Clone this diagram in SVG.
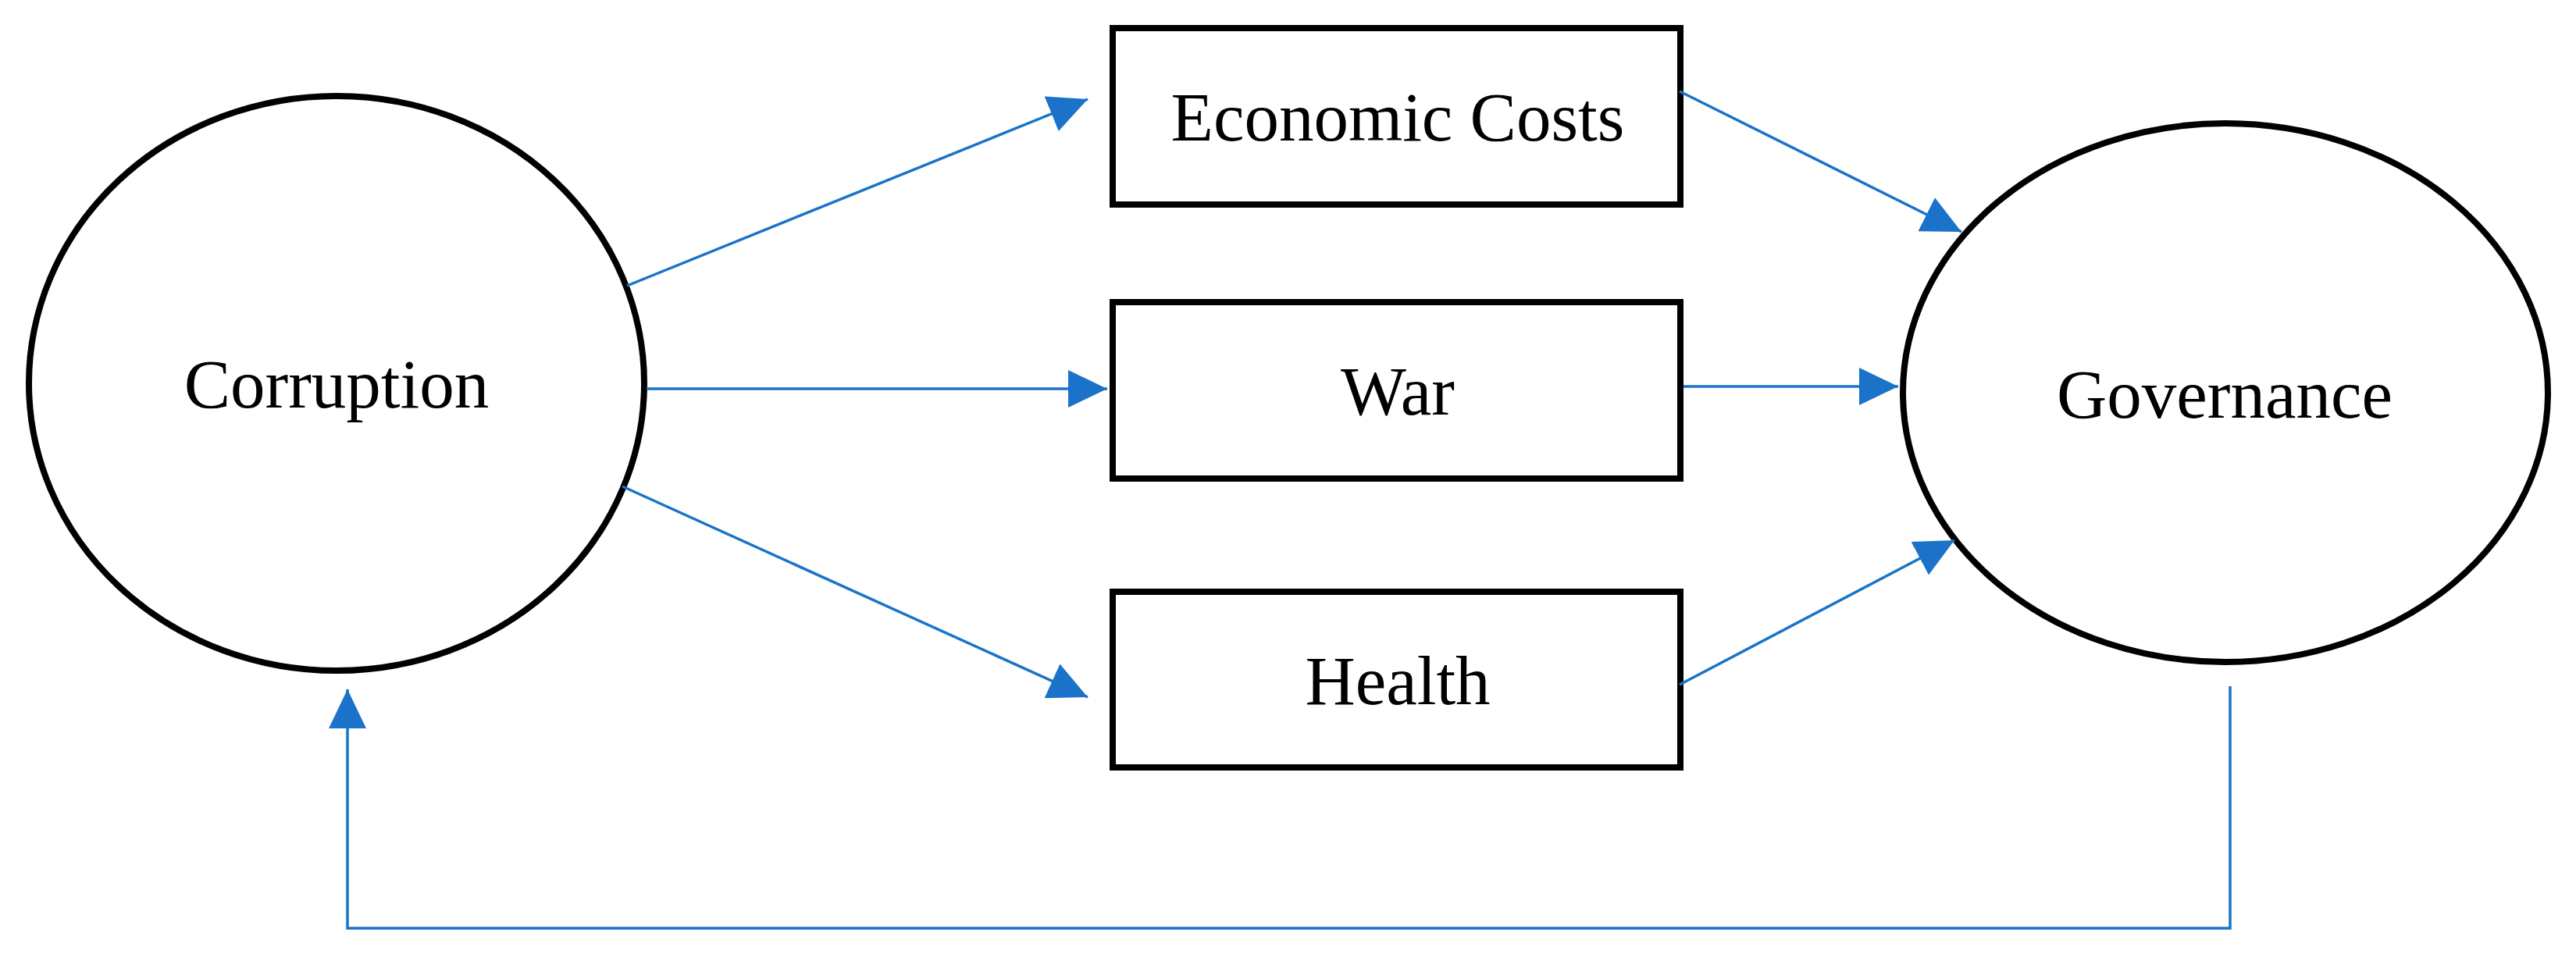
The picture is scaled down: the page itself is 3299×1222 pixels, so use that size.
<svg xmlns="http://www.w3.org/2000/svg" width="3299" height="1222" viewBox="0 0 3299 1222">
<style>
.node{fill:#fff;stroke:#000;stroke-width:8}
.lbl{font-family:"Liberation Serif","DejaVu Serif",serif;font-size:89px;fill:#000;text-anchor:middle}
.con{fill:none;stroke:#1a73c8;stroke-width:3.5}
</style>
<defs>
<marker id="ah" markerUnits="userSpaceOnUse" markerWidth="52" markerHeight="52" refX="50" refY="26" orient="auto" viewBox="0 0 52 52">
<path d="M0,2 L50,26 L0,50 z" fill="#1a73c8"/>
</marker>
</defs>
<rect width="3299" height="1222" fill="#fff"/>
<g id="corruption"><ellipse class="node" cx="431" cy="491" rx="394" ry="368"/><text class="lbl" x="431" y="522">Corruption</text></g>
<g id="economic"><rect class="node" x="1425" y="36" width="727" height="226"/><text class="lbl" x="1790" y="180">Economic Costs</text></g>
<g id="war"><rect class="node" x="1425" y="387" width="727" height="226"/><text class="lbl" x="1790" y="531">War</text></g>
<g id="health"><rect class="node" x="1425" y="758" width="727" height="225"/><text class="lbl" x="1790" y="902">Health</text></g>
<g id="governance"><ellipse class="node" cx="2850" cy="503" rx="413" ry="345"/><text class="lbl" x="2849" y="535">Governance</text></g>
<g id="connectors">
<path class="con" marker-end="url(#ah)" d="M803,366 L1393,127"/>
<path class="con" marker-end="url(#ah)" d="M828,498 L1418,498"/>
<path class="con" marker-end="url(#ah)" d="M797,623 L1393,893"/>
<path class="con" marker-end="url(#ah)" d="M2151,117 L2512,297"/>
<path class="con" marker-end="url(#ah)" d="M2156,495 L2431,495"/>
<path class="con" marker-end="url(#ah)" d="M2151,877 L2503,692"/>
<path class="con" marker-end="url(#ah)" d="M2856,879 L2856,1189 L445,1189 L445,883"/>
</g>
</svg>
